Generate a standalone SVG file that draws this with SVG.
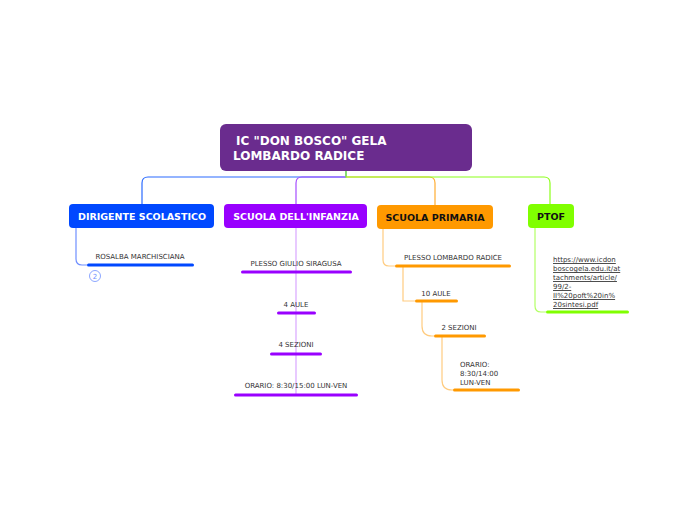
<svg xmlns="http://www.w3.org/2000/svg" width="697" height="520" viewBox="0 0 697 520">
<style>
text{font-family:"DejaVu Sans",Verdana,sans-serif}
.b{font-weight:bold;font-size:9.5px;fill:#fff}
.s{font-size:7px;fill:#333}
.c{fill:none;stroke-width:1.2}
</style>
<rect width="697" height="520" fill="#fff"/>
<g id="connectors">
<path class="c" stroke="#2b6bff" d="M346 171 V177 H148 Q142 177 142 183 V204"/>
<path class="c" stroke="#a64dff" d="M346 177 H302 Q296 177 296 183 V204"/>
<path class="c" stroke="#ffad33" d="M346 177 H429 Q435 177 435 183 V205"/>
<path class="c" stroke="#8cff1a" d="M346 171 V177 H544 Q550 177 550 183 V204"/>
<path class="c" stroke="#6f8fff" d="M76 228 V259 Q76 265 82 265 H87"/>
<path class="c" stroke="#d9a6ff" d="M296 228 V395"/>
<path class="c" stroke="#ffcc80" d="M383 229 V260 Q383 266 389 266 H395"/>
<path class="c" stroke="#ffcc80" d="M403 266 V301 H415"/>
<path class="c" stroke="#ffcc80" d="M422 301 V326 Q422 336 432 336 H434"/>
<path class="c" stroke="#ffcc80" d="M442 336 V380 Q442 390 452 390 H453"/>
<path class="c" stroke="#b3ff66" d="M535 228 V306 Q535 312 541 312 H546"/>
</g>
<g id="root"><rect x="220" y="124" width="252" height="47" rx="6" fill="#6a2c8e"/>
<text x="236" y="145" class="b" font-size="12" style="font-size:12px"> IC "DON BOSCO" GELA</text>
<text x="233" y="160" class="b" style="font-size:12px">LOMBARDO RADICE</text></g>
<g id="dirigente"><rect x="69" y="204" width="145" height="24" rx="4" fill="#0048ff"/>
<text x="142" y="220" class="b" text-anchor="middle">DIRIGENTE SCOLASTICO</text></g>
<g id="rosalba"><text x="140" y="259" class="s" text-anchor="middle">ROSALBA MARCHISCIANA</text>
<rect x="87" y="263.5" width="107" height="3" rx="1.5" fill="#0048ff"/>
<circle cx="95" cy="276" r="5.5" fill="#fff" stroke="#6f8fff" stroke-width="0.8"/>
<text x="95" y="279" font-size="7" fill="#6f8fff" text-anchor="middle">2</text></g>
<g id="infanzia"><rect x="224" y="204" width="143" height="24" rx="4" fill="#9900ff"/>
<text x="296" y="220" class="b" text-anchor="middle">SCUOLA DELL'INFANZIA</text></g>
<g id="plesso1"><text x="296" y="266" class="s" text-anchor="middle">PLESSO GIULIO SIRAGUSA</text><rect x="241" y="270.5" width="111" height="3" rx="1.5" fill="#9900ff"/></g>
<g id="aule4"><text x="296" y="307" class="s" text-anchor="middle">4 AULE</text><rect x="277" y="311.5" width="39" height="3" rx="1.5" fill="#9900ff"/></g>
<g id="sez4"><text x="296" y="347" class="s" text-anchor="middle">4 SEZIONI</text><rect x="270" y="352.5" width="52" height="3" rx="1.5" fill="#9900ff"/></g>
<g id="orario1"><text x="296" y="388" class="s" text-anchor="middle">ORARIO: 8:30/15:00 LUN-VEN</text><rect x="234" y="393.5" width="124" height="3" rx="1.5" fill="#9900ff"/></g>
<g id="primaria"><rect x="377" y="205" width="116" height="24" rx="4" fill="#ff9900"/>
<text x="435" y="221" class="b" text-anchor="middle" fill="#111" style="fill:#111">SCUOLA PRIMARIA</text></g>
<g id="plesso2"><text x="453" y="260" class="s" text-anchor="middle">PLESSO LOMBARDO RADICE</text><rect x="395" y="264.5" width="116" height="3" rx="1.5" fill="#ff9900"/></g>
<g id="aule10"><text x="436" y="296" class="s" text-anchor="middle">10 AULE</text><rect x="415" y="299.5" width="43" height="3" rx="1.5" fill="#ff9900"/></g>
<g id="sez2"><text x="459" y="330" class="s" text-anchor="middle">2 SEZIONI</text><rect x="434" y="334.5" width="52" height="3" rx="1.5" fill="#ff9900"/></g>
<g id="orario2"><text x="460" y="367" class="s">ORARIO:</text><text x="460" y="376" class="s">8:30/14:00</text><text x="460" y="385" class="s">LUN-VEN</text><rect x="453" y="388.5" width="67" height="3" rx="1.5" fill="#ff9900"/></g>
<g id="ptof"><rect x="528" y="204" width="46" height="24" rx="4" fill="#80ff00"/>
<text x="551" y="220" class="b" text-anchor="middle" style="fill:#111">PTOF</text></g>
<g id="link" text-decoration="underline"><text class="s" x="553" y="262">https://www.icdon</text><text class="s" x="553" y="271">boscogela.edu.it/at</text><text class="s" x="553" y="280">tachments/article/</text><text class="s" x="553" y="289">99/2-</text><text class="s" x="553" y="298">II%20poft%20in%</text><text class="s" x="553" y="307">20sintesi.pdf</text>
<rect x="546" y="310.5" width="83" height="3" rx="1.5" fill="#80ff00"/></g>
</svg>
